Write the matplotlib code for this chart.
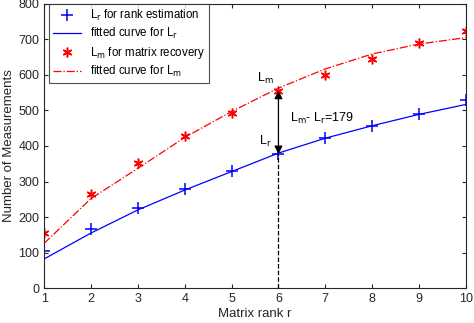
import matplotlib
matplotlib.use("Agg")
import matplotlib.pyplot as plt

# data
rank = [1, 2, 3, 4, 5, 6, 7, 8, 9, 10]
lr_points = [104, 166, 226, 278, 330, 377, 422, 457, 489, 529]
lr_fit = [82, 155, 220, 276, 328, 380, 422, 457, 489, 517]
lm_points = [154, 264, 351, 427, 494, 556, 601, 646, 689, 723]
lm_fit = [126, 252, 337, 424, 497, 563, 617, 659, 687, 705]

plt.rcParams['font.family'] = ['Liberation Sans', 'DejaVu Sans']

fig = plt.figure(figsize=(4.74, 3.23), dpi=100)
ax = fig.add_axes([0.093, 0.108, 0.890, 0.880])

ax.plot(rank, lr_points, linestyle='none', marker='+', color='blue',
        markersize=8, markeredgewidth=1.1, label=r'L$_\mathrm{r}$ for rank estimation')
ax.plot(rank, lr_fit, color='blue', linewidth=0.9, label=r'fitted curve for L$_\mathrm{r}$')
ax.plot(rank, lm_points, linestyle='none', marker=(6, 2, 0), color='red',
        markersize=7, markeredgewidth=1.1, label=r'L$_\mathrm{m}$ for matrix recovery')
ax.plot(rank, lm_fit, color='red', linestyle='-.', linewidth=0.9,
        label=r'fitted curve for L$_\mathrm{m}$')

# annotation at r = 6
r0 = rank[5]
ax.plot([r0, r0], [0, lr_points[5]], color='black', linestyle='--', linewidth=0.9)
ax.annotate('', xy=(r0, lm_points[5]), xytext=(r0, lr_points[5]),
            arrowprops=dict(arrowstyle='<|-|>', color='black', lw=0.9,
                            mutation_scale=12, shrinkA=0, shrinkB=0))
ax.text(5.72, 590, r'L$_\mathrm{m}$', fontsize=9, ha='center', va='center')
ax.text(5.72, 412, r'L$_\mathrm{r}$', fontsize=9, ha='center', va='center')
ax.text(6.25, 478, r'L$_\mathrm{m}$- L$_\mathrm{r}$=179', fontsize=9, ha='left', va='center')

ax.set_xlim(1, 10)
ax.set_ylim(0, 800)
ax.set_xticks(rank)
ax.set_yticks(range(0, 801, 100))
ax.tick_params(direction='in', top=True, right=True, labelsize=9, length=3, colors='#262626')
for s in ax.spines.values():
    s.set_color('#262626')
    s.set_linewidth(0.8)
ax.set_xlabel('Matrix rank r', fontsize=9.5, color='#262626', labelpad=2)
ax.set_ylabel('Number of Measurements', fontsize=9.5, color='#262626', labelpad=2)

leg = ax.legend(loc='upper left', bbox_to_anchor=(0.012, 1.0), fontsize=8.3,
                frameon=True, fancybox=False, edgecolor='#262626',
                borderaxespad=0.0, handlelength=2.4, labelspacing=0.28,
                borderpad=0.35)
leg.get_frame().set_linewidth(0.8)

fig.savefig('out.png', dpi=100)
